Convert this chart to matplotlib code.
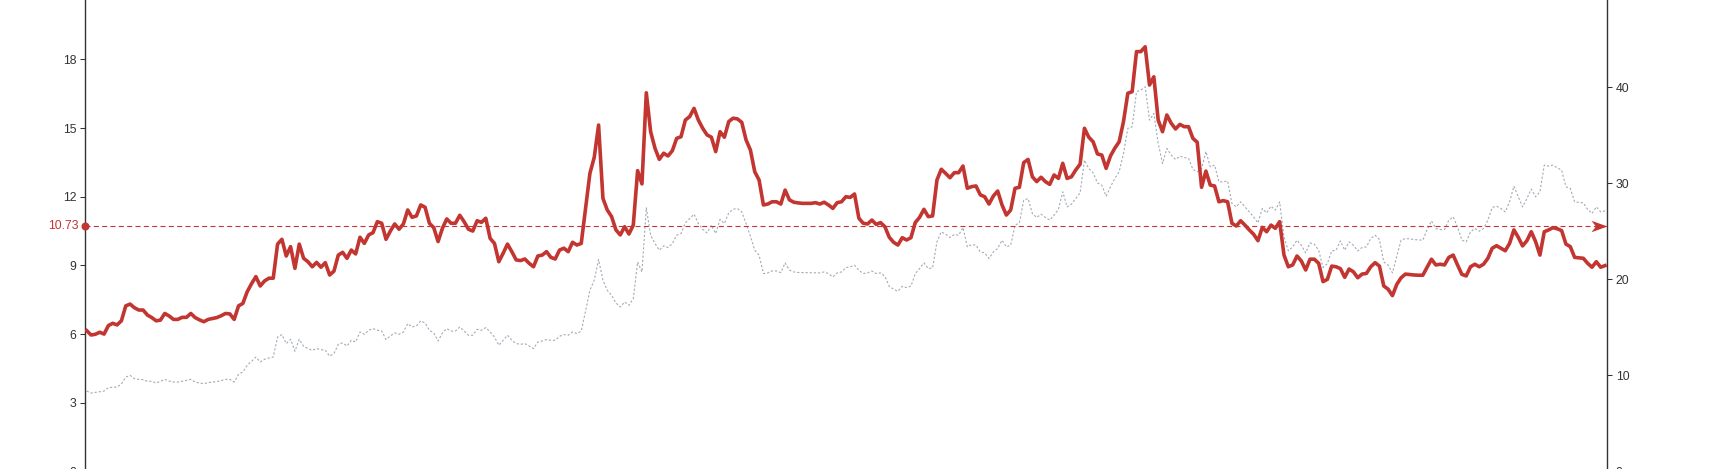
import matplotlib
matplotlib.use("Agg")
import matplotlib.pyplot as plt
import numpy as np
from matplotlib.path import Path

plt.rcParams["font.family"] = ["Liberation Sans", "DejaVu Sans"]
plt.rcParams["lines.scale_dashes"] = False

# ---------------- data ----------------
red_values = [
    6.15, 5.96, 5.99, 6.08, 6.0, 6.37, 6.47, 6.4, 6.58, 7.23, 7.31, 7.15, 7.05, 7.05, 6.83, 6.72,
    6.58, 6.61, 6.9, 6.79, 6.64, 6.64, 6.73, 6.73, 6.9, 6.72, 6.62, 6.54, 6.64, 6.68, 6.72, 6.8,
    6.9, 6.88, 6.64, 7.23, 7.34, 7.85, 8.2, 8.51, 8.1, 8.32, 8.44, 8.44, 9.93, 10.14, 9.41, 9.82,
    8.87, 9.93, 9.31, 9.16, 8.94, 9.13, 8.92, 9.12, 8.58,
    8.75, 9.45, 9.57, 9.31, 9.67, 9.5, 10.23, 9.96, 10.33, 10.43, 10.91, 10.84, 10.14, 10.5,
    10.81, 10.58, 10.81, 11.42, 11.1, 11.16, 11.64, 11.54, 10.84, 10.65, 10.04, 10.62, 11.03,
    10.84, 10.84, 11.19, 10.91, 10.58, 10.5, 10.95, 10.88, 11.06, 10.18, 9.96, 9.16, 9.53, 9.93,
    9.6, 9.24, 9.21, 9.28, 9.09, 8.94, 9.41, 9.45, 9.6, 9.35, 9.28, 9.67, 9.75, 9.6, 10.01,
    9.89, 9.96,
    11.5, 13.02, 13.72, 15.13, 11.93, 11.42, 11.13, 10.55, 10.33, 10.69, 10.37, 10.76, 13.14,
    12.56, 16.54, 14.84, 14.12, 13.63, 13.9, 13.78, 14.01, 14.55, 14.62, 15.35, 15.5, 15.86,
    15.35, 14.99, 14.7, 14.6, 13.97, 14.84, 14.6, 15.28, 15.43, 15.4, 15.25, 14.48, 14.04,
    13.09, 12.73, 11.64, 11.68, 11.78, 11.78, 11.68, 12.29, 11.86, 11.76, 11.73, 11.71, 11.71,
    11.71, 11.74, 11.68, 11.76, 11.64, 11.49,
    11.74, 11.78, 12.0, 11.97, 12.12, 11.06, 10.84, 10.81, 10.98, 10.79, 10.87, 10.69, 10.23,
    10.01, 9.89, 10.21, 10.11, 10.21, 10.87, 11.1, 11.45, 11.13, 11.16, 12.73, 13.2, 13.02,
    12.83, 13.05, 13.05, 13.34, 12.37, 12.44, 12.47, 12.08, 12.0, 11.68, 12.03, 12.25, 11.64,
    11.2, 11.42, 12.37, 12.41, 13.49, 13.63, 12.87, 12.66, 12.85, 12.66, 12.54, 12.95, 12.8,
    13.46, 12.8, 12.87, 13.17, 13.42,
    14.99, 14.6, 14.4, 13.87, 13.82, 13.24, 13.78, 14.12, 14.4, 15.28, 16.52, 16.59, 18.34,
    18.34, 18.55, 16.88, 17.24, 15.35, 14.84, 15.57, 15.21, 14.96, 15.16, 15.06, 15.06, 14.55,
    14.38, 12.41, 13.12, 12.51, 12.47, 11.78, 11.83, 11.78, 10.84, 10.72, 10.95, 10.76, 10.55,
    10.36, 10.08, 10.66, 10.47, 10.76, 10.62, 10.91, 9.45, 8.94, 9.02, 9.41, 9.19, 8.8, 9.27,
    9.27, 9.09, 8.29, 8.39, 8.97,
    8.94, 8.86, 8.48, 8.84, 8.72, 8.46, 8.62, 8.65, 8.94, 9.12, 8.97, 8.1, 7.96, 7.68, 8.17,
    8.46, 8.62, 8.6, 8.58, 8.57, 8.57, 8.92, 9.27, 9.02, 9.05, 9.02, 9.35, 9.45, 9.02, 8.61,
    8.54, 8.94, 9.05, 8.94, 9.05, 9.31, 9.75, 9.86, 9.75, 9.64, 9.96, 10.55, 10.23, 9.85,
    10.08, 10.47, 10.04, 9.45, 10.47, 10.55, 10.65, 10.6, 10.52, 9.93, 9.82, 9.35, 9.33, 9.31,
    9.09, 8.92, 9.16, 8.92, 8.99,
]

gray_values = [
    8.36, 8.16, 8.23, 8.3, 8.36, 8.72, 8.75, 8.78, 9.1, 9.8, 10.0, 9.65, 9.58, 9.55, 9.38, 9.38,
    9.2, 9.38, 9.58, 9.4, 9.3, 9.3, 9.38, 9.48, 9.58, 9.3, 9.2, 9.13, 9.24, 9.3, 9.35, 9.45,
    9.58, 9.58, 9.3, 10.1, 10.35, 11.05, 11.45, 11.9, 11.39, 11.67, 11.8, 11.9, 13.99, 14.24,
    13.3, 13.75, 12.5, 13.75, 13.02, 12.78, 12.6, 12.78, 12.67, 12.6, 12.0,
    12.26, 13.23, 13.37, 13.05, 13.65, 13.47, 14.51, 14.27, 14.69, 14.86, 14.69, 14.61, 13.72,
    14.1, 14.41, 14.27, 14.51, 15.38, 15.03, 15.14, 15.66, 15.45, 14.69, 14.41, 13.57, 14.41,
    14.86, 14.61, 14.61, 15.03, 14.61, 14.17, 14.17, 14.79, 14.69, 14.97, 14.51, 13.99, 13.13,
    13.65, 14.17, 13.65, 13.3, 13.23, 13.3, 13.05, 12.78, 13.47, 13.57, 13.72, 13.65, 13.65,
    14.06, 14.24, 14.17, 14.51, 14.34, 14.61,
    16.7, 18.85, 19.9, 22.05, 19.9, 18.85, 18.33, 17.53, 17.11, 17.64, 17.29, 17.99, 21.8,
    20.76, 27.43, 24.58, 23.72, 23.02, 23.47, 23.3, 23.72, 24.58, 24.76, 25.86, 26.32, 26.77,
    25.8, 25.21, 24.82, 25.63, 24.76, 26.22, 25.8, 26.91, 27.29, 27.36, 27.01, 25.8, 24.48,
    23.02, 22.5, 20.59, 20.66, 20.86, 20.86, 20.69, 21.7, 20.94, 20.76, 20.7, 20.69, 20.67,
    20.66, 20.66, 20.66, 20.76, 20.59, 20.24,
    20.66, 20.76, 21.22, 21.28, 21.46, 20.94, 20.59, 20.66, 20.86, 20.59, 20.66, 20.31, 19.27,
    18.96, 18.75, 19.27, 19.13, 19.27, 20.59, 21.11, 21.7, 21.11, 21.18, 23.89, 24.93, 24.69,
    24.34, 24.66, 24.58, 25.38, 23.37, 23.61, 23.54, 22.84, 22.74, 22.16, 22.84, 23.2, 24.06,
    23.37, 23.54, 25.63, 25.86, 28.23, 28.4, 26.84, 26.43, 26.77, 26.43, 26.15, 26.67, 27.26,
    29.1, 27.53, 27.81, 28.4, 28.99,
    32.4, 31.53, 31.07, 30.03, 29.79, 28.65, 29.62, 30.49, 31.18, 33.09, 35.7, 35.87, 39.51,
    39.69, 40.03, 36.56, 37.26, 34.14, 32.05, 33.61, 32.92, 32.47, 32.81, 32.67, 32.57, 31.43,
    31.18, 31.5, 33.3, 31.7, 31.88, 30.14, 30.14, 30.24, 27.88, 27.53, 28.05, 27.53, 27.01,
    26.49, 25.86, 27.36, 26.91, 27.6, 27.19, 28.05, 24.41, 22.95, 23.37, 24.06, 23.54, 22.74,
    23.78, 23.65, 23.02, 21.22, 21.63, 22.95,
    23.02, 23.99, 23.02, 23.89, 23.54, 22.95, 23.3, 23.37, 24.24, 24.58, 24.13, 21.8, 21.46,
    20.66, 22.4, 24.06, 24.24, 24.2, 24.13, 24.1, 24.06, 25.17, 26.07, 25.28, 25.17, 25.17,
    26.15, 26.49, 25.45, 24.06, 23.89, 24.93, 25.28, 25.0, 25.28, 26.15, 27.47, 27.6, 27.36,
    27.01, 28.05, 29.69, 28.58, 27.53, 28.4, 29.38, 28.58, 29.1, 31.88, 31.77, 31.88, 31.6,
    31.35, 29.62, 29.45, 28.05, 28.0, 27.95, 27.26, 26.84, 27.53, 27.01, 27.12,
]

mark_value = 10.73
left_ticks = [0, 3, 6, 9, 12, 15, 18]
right_ticks = [0, 10, 20, 30, 40]

# ---------------- styling ----------------
RED = "#c23531"
GRAY = "#a3abb5"
AX = "#333333"

W, H = 1721, 469
fig = plt.figure(figsize=(W / 100, H / 100), dpi=100)
left_px, right_px = 84.5, 1607.3
top_px, bottom_px = 0.0, 471.4
ax = fig.add_axes([left_px / W, (H - bottom_px) / H,
                   (right_px - left_px) / W, (bottom_px - top_px) / H])
ax2 = ax.twinx()
ax.set_zorder(ax2.get_zorder() + 1)
ax.patch.set_visible(False)

n_red = len(red_values)
x_red = np.arange(n_red)
x_gray = np.linspace(0, n_red - 1, len(gray_values))

first_px, last_px = 86.7, 1605.0
step = (last_px - first_px) / (n_red - 1)
xlim = (-(first_px - left_px) / step, (n_red - 1) + (right_px - last_px) / step)

ax.plot(x_red, red_values, color=RED, lw=2.6, solid_joinstyle="round", zorder=3)
ax2.plot(x_gray, gray_values, color=GRAY, lw=0.8, linestyle=(0, (1.6, 1.4)), zorder=2)

# mark line
ax.plot([xlim[0], xlim[1]], [mark_value, mark_value], color=RED, lw=0.8,
        linestyle=(0, (3.6, 2.4)), zorder=2, clip_on=False)
ax.plot([xlim[0]], [mark_value], marker="o", ms=5.8, color=RED, mew=0,
        clip_on=False, zorder=4)
arrow = Path([(0, 0), (-2, 0.72), (-1.45, 0), (-2, -0.72), (0, 0)],
             [Path.MOVETO, Path.LINETO, Path.LINETO, Path.LINETO, Path.CLOSEPOLY])
ax.plot([xlim[1]], [mark_value], marker=arrow, ms=23, color=RED, mew=0,
        clip_on=False, zorder=4)
ax.annotate(f"{mark_value:.2f}", xy=(xlim[0], mark_value), xytext=(-4.2, 0),
            textcoords="offset points", ha="right", va="center",
            color=RED, fontsize=8.8)

ax.set_xlim(*xlim)
ax.set_ylim(0, 471.4 / 22.89)
ax2.set_ylim(0, 471.0 / 9.6)

ax.set_yticks(left_ticks)
ax.set_yticklabels([str(t) for t in left_ticks])
ax2.set_yticks(right_ticks)
ax2.set_yticklabels([str(t) for t in right_ticks])

for a in (ax, ax2):
    a.set_xticks([])
    for s in ("top", "bottom"):
        a.spines[s].set_visible(False)
    a.spines["left"].set_color(AX)
    a.spines["right"].set_color(AX)
    a.spines["left"].set_linewidth(1.0)
    a.spines["right"].set_linewidth(1.0)
    a.tick_params(axis="y", length=3.6, width=0.75, color=AX, labelcolor=AX,
                  labelsize=8.8, pad=2.4, direction="out")
ax.spines["right"].set_visible(False)
ax2.spines["left"].set_visible(False)

fig.savefig("out.png", dpi=100)
